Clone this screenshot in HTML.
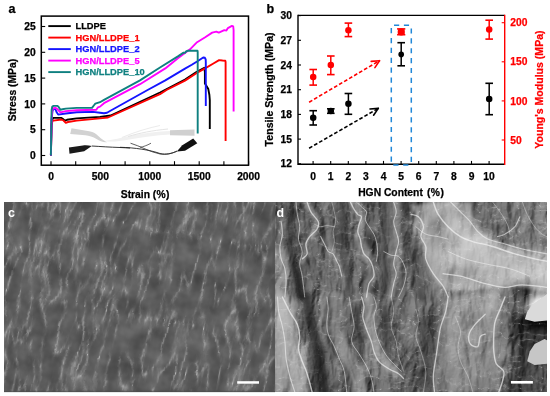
<!DOCTYPE html>
<html><head><meta charset="utf-8"><style>
html,body{margin:0;padding:0;background:#fff;}
svg{display:block;}
text{font-family:"Liberation Sans",Arial,sans-serif;font-weight:bold;stroke-width:0.25px;}
.r{stroke:#f00;} .w{stroke:none;}
.tk{font-size:10.3px;}
.al{font-size:10.3px;}
.lg{font-size:9.3px;}
.pl{font-size:12.5px;}
</style></head><body>
<svg width="550" height="396" viewBox="0 0 550 396">
<defs>
<filter id="tc" x="0" y="0" width="100%" height="100%" color-interpolation-filters="sRGB">
 <feTurbulence type="fractalNoise" baseFrequency="0.03 0.03" numOctaves="2" seed="11" result="w"/>
 <feTurbulence type="turbulence" baseFrequency="0.09 0.022" numOctaves="4" seed="7" result="t"/>
 <feDisplacementMap in="t" in2="w" scale="10" xChannelSelector="R" yChannelSelector="G" result="td"/>
 <feColorMatrix in="td" type="matrix" values="-1.6 0 0 0 1.0  -1.6 0 0 0 1.0  -1.6 0 0 0 1.0  0 0 0 0 1"/>
 <feComponentTransfer><feFuncR type="gamma" amplitude="1" exponent="5" offset="0"/><feFuncG type="gamma" amplitude="1" exponent="5" offset="0"/><feFuncB type="gamma" amplitude="1" exponent="5" offset="0"/></feComponentTransfer>
 <feComponentTransfer result="s"><feFuncR type="linear" slope="0.36" intercept="0.355"/><feFuncG type="linear" slope="0.36" intercept="0.355"/><feFuncB type="linear" slope="0.36" intercept="0.355"/></feComponentTransfer>
 <feTurbulence type="fractalNoise" baseFrequency="0.05 0.05" numOctaves="3" seed="3" result="m"/>
 <feColorMatrix in="m" type="matrix" values="0.5 0 0 0 0.25  0.5 0 0 0 0.25  0.5 0 0 0 0.25  0 0 0 0 1" result="mm"/>
 <feBlend in="mm" in2="s" mode="soft-light"/>
 <feGaussianBlur stdDeviation="0.45"/>
</filter>
<filter id="semd" x="250" y="180" width="320" height="235" filterUnits="userSpaceOnUse" color-interpolation-filters="sRGB">
 <feGaussianBlur in="SourceGraphic" stdDeviation="3.5" result="base"/>
 <feTurbulence type="fractalNoise" baseFrequency="0.03 0.02" numOctaves="2" seed="5" result="w"/>
 <feTurbulence type="fractalNoise" baseFrequency="0.06 0.02" numOctaves="4" seed="21" result="t"/>
 <feDisplacementMap in="t" in2="w" scale="14" xChannelSelector="R" yChannelSelector="G" result="td"/>
 <feColorMatrix in="td" type="matrix" values="0 0 0 0 0  0 0 0 0 0  0 0 0 0 0  1 0 0 0 0" result="h"/>
 <feDiffuseLighting in="h" surfaceScale="5" diffuseConstant="1.1" lighting-color="#fff" result="lit"><feDistantLight azimuth="225" elevation="50"/></feDiffuseLighting>
 <feColorMatrix in="lit" type="matrix" values="0.9 0 0 0 -0.12  0.9 0 0 0 -0.12  0.9 0 0 0 -0.12  0 0 0 0 1" result="tg"/>
 <feBlend in="tg" in2="base" mode="soft-light" result="b1"/>
 <feTurbulence type="turbulence" baseFrequency="0.05 0.09" numOctaves="3" seed="33" result="t2"/>
 <feDisplacementMap in="t2" in2="w" scale="10" xChannelSelector="G" yChannelSelector="R" result="t2d"/>
 <feColorMatrix in="t2d" type="matrix" values="0 0 0 0 1  0 0 0 0 1  0 0 0 0 1  -2.2 0 0 0 1.0" result="r2"/>
 <feComponentTransfer in="r2" result="r3"><feFuncA type="gamma" amplitude="0.32" exponent="4" offset="0"/></feComponentTransfer>
 <feComposite in="r3" in2="b1" operator="over"/>
</filter>
<filter id="db" x="-10%" y="-10%" width="120%" height="120%"><feGaussianBlur stdDeviation="2.2"/></filter>
<filter id="shb" x="-10%" y="-10%" width="120%" height="120%"><feGaussianBlur stdDeviation="1.5"/></filter>
<filter id="sb" x="-10%" y="-10%" width="120%" height="120%"><feGaussianBlur stdDeviation="0.5"/></filter>
<clipPath id="cc"><rect x="4" y="202" width="271" height="190"/></clipPath>
<clipPath id="cd"><rect x="275" y="202" width="272" height="190"/></clipPath>
</defs>
<rect width="550" height="396" fill="#fff"/>
<g id="pa">
<path d="M71.5,128.3 L89.3,131.2 C92,131.6 94,132.5 96,134 C99,136.5 102,139.8 107,142.3 C103,142.6 99.5,141 96.5,139 C93,136.8 89,135.6 85.5,135.3 L70.2,134 Z" fill="#d2d2d2"/>
<path d="M104,141 C112,140 122,137.5 132,135.5 C145,133 158,131.5 170,131 L170,134.6 C156,135.3 142,137.2 128,139.8 C119,141.3 111,142.3 104,141 Z" fill="#f0f0f0"/>
<path d="M122,137.5 C135,132 148,128 160,125.5" fill="none" stroke="#ececec" stroke-width="1.2"/>
<path d="M128,136.5 C140,133 152,130.5 168,129" fill="none" stroke="#e4e4e4" stroke-width="1"/>
<path d="M170,130.3 L194.5,129.6 L194.5,135.7 L170,135.2 Z" fill="#d0d0d0"/>
<path d="M68.9,147.4 L82.9,145.5 C86,145 89,145.5 91.8,146 L84.2,151.2 L69.5,153.7 Z" fill="#1a1a1a"/>
<path d="M91.8,146 C100,146.5 110,147.2 120,147.5 L130,148" fill="none" stroke="#222" stroke-width="0.9"/>
<path d="M120,147.3 C135,147.6 150,150 160,153.5 C166,155 172,153.5 177,151 " fill="none" stroke="#222" stroke-width="0.9"/>
<path d="M130.5,143.2 C140,146 150,152 160,154 C166,155 171,153.8 176.8,151.4" fill="none" stroke="#333" stroke-width="0.8"/>
<path d="M151,143.2 C147,145.5 143,146.8 140,147.3" fill="none" stroke="#444" stroke-width="0.8"/>
<path d="M176.8,151.4 L182.3,145.3 L193.2,138.5 L197.3,143.2 L185,150.7 Z" fill="#111"/>
<polyline points="50.9,155.5 51.5,125.0 52.5,119.0 53.3,117.9 61.5,117.9 63.0,119.0 64.7,120.6 67.0,119.8 76.7,118.4 100.0,116.9 110.6,115.5 160.0,92.5 185.0,79.5 196.4,72.0 204.3,67.8 204.9,72.0 204.9,83.4 206.5,86.0 208.3,89.1 209.4,95.0 209.8,100.0 209.8,128.9" fill="none" stroke="#000" stroke-width="1.9" stroke-linejoin="round"/>
<polyline points="50.9,155.5 51.5,125.0 52.5,121.0 53.3,120.6 61.5,119.5 63.5,120.5 65.8,122.8 68.0,122.0 76.7,120.6 100.0,118.4 108.0,117.5 160.0,94.2 166.5,90.0 185.0,80.6 196.4,73.2 205.5,68.1 213.4,63.5 219.1,60.1 222.5,60.5 225.3,60.7 225.6,62.0 225.6,140.9" fill="none" stroke="#ff0000" stroke-width="1.9" stroke-linejoin="round"/>
<polyline points="50.9,155.5 51.5,120.0 52.5,111.0 53.3,109.2 54.5,108.6 55.5,109.5 56.5,112.0 58.2,114.6 65.8,113.5 76.7,112.2 93.0,111.9 100.0,112.8 104.0,113.3 107.0,112.8 110.0,111.0 147.6,90.0 165.3,80.4 185.0,68.6 191.8,64.7 197.5,61.2 203.2,57.5 204.9,57.8 205.7,59.5 205.8,62.0 205.8,106.1" fill="none" stroke="#1414ff" stroke-width="1.9" stroke-linejoin="round"/>
<polyline points="50.9,155.5 51.5,120.0 52.3,110.0 53.3,108.1 55.5,107.9 57.2,109.0 60.4,112.4 65.8,111.1 76.7,110.3 96.3,109.7 98.0,107.3 100.0,106.6 104.0,103.2 140.0,84.2 165.3,68.4 177.9,58.3 190.0,49.3 197.1,42.2 205.2,37.2 212.2,32.6 216.3,31.6 218.8,32.6 224.3,30.1 226.4,30.6 227.9,28.1 231.9,25.9 233.2,26.3 233.6,30.0 233.6,111.4" fill="none" stroke="#ff00ff" stroke-width="1.9" stroke-linejoin="round"/>
<polyline points="50.9,155.5 51.2,130.0 51.6,110.0 52.3,106.5 53.5,105.9 57.5,105.9 58.8,107.2 60.4,109.7 62.5,109.3 65.8,108.6 76.7,107.9 92.0,107.9 93.8,105.5 95.3,103.7 100.0,102.2 104.0,99.9 140.0,80.4 160.0,67.5 177.9,56.4 183.6,52.6 185.0,52.8 186.0,51.5 188.0,50.7 197.5,50.7 197.7,52.0 197.7,133.4" fill="none" stroke="#0f8080" stroke-width="1.9" stroke-linejoin="round"/>
<rect x="41.3" y="16.1" width="207.2" height="149.1" fill="none" stroke="#000" stroke-width="1.5"/>
<line x1="41.3" y1="26.5" x2="45.2" y2="26.5" stroke="#000" stroke-width="1.1"/>
<text stroke="#000" x="35.8" y="30.1" class="tk" text-anchor="end">25</text>
<line x1="41.3" y1="52.3" x2="45.2" y2="52.3" stroke="#000" stroke-width="1.1"/>
<text stroke="#000" x="35.8" y="55.9" class="tk" text-anchor="end">20</text>
<line x1="41.3" y1="78.1" x2="45.2" y2="78.1" stroke="#000" stroke-width="1.1"/>
<text stroke="#000" x="35.8" y="81.7" class="tk" text-anchor="end">15</text>
<line x1="41.3" y1="103.9" x2="45.2" y2="103.9" stroke="#000" stroke-width="1.1"/>
<text stroke="#000" x="35.8" y="107.5" class="tk" text-anchor="end">10</text>
<line x1="41.3" y1="129.7" x2="45.2" y2="129.7" stroke="#000" stroke-width="1.1"/>
<text stroke="#000" x="35.8" y="133.3" class="tk" text-anchor="end">5</text>
<line x1="41.3" y1="155.5" x2="45.2" y2="155.5" stroke="#000" stroke-width="1.1"/>
<text stroke="#000" x="35.8" y="159.1" class="tk" text-anchor="end">0</text>
<line x1="51.0" y1="165.2" x2="51.0" y2="161.2" stroke="#000" stroke-width="1.1"/>
<text stroke="#000" x="51.0" y="179.8" class="tk" text-anchor="middle">0</text>
<line x1="75.7" y1="165.2" x2="75.7" y2="161.2" stroke="#000" stroke-width="1.1"/>
<line x1="100.4" y1="165.2" x2="100.4" y2="161.2" stroke="#000" stroke-width="1.1"/>
<text stroke="#000" x="100.4" y="179.8" class="tk" text-anchor="middle">500</text>
<line x1="125.1" y1="165.2" x2="125.1" y2="161.2" stroke="#000" stroke-width="1.1"/>
<line x1="149.8" y1="165.2" x2="149.8" y2="161.2" stroke="#000" stroke-width="1.1"/>
<text stroke="#000" x="149.8" y="179.8" class="tk" text-anchor="middle">1000</text>
<line x1="174.5" y1="165.2" x2="174.5" y2="161.2" stroke="#000" stroke-width="1.1"/>
<line x1="199.2" y1="165.2" x2="199.2" y2="161.2" stroke="#000" stroke-width="1.1"/>
<text stroke="#000" x="199.2" y="179.8" class="tk" text-anchor="middle">1500</text>
<line x1="223.9" y1="165.2" x2="223.9" y2="161.2" stroke="#000" stroke-width="1.1"/>
<line x1="248.6" y1="165.2" x2="248.6" y2="161.2" stroke="#000" stroke-width="1.1"/>
<text stroke="#000" x="248.6" y="179.8" class="tk" text-anchor="middle">2000</text>
<text stroke="#000" x="120.8" y="197.5" class="al">Strain (<tspan dx="0.3">%</tspan><tspan dx="0.2">)</tspan></text>
<text stroke="#000" transform="translate(16.4,90.1) rotate(-90)" class="al" text-anchor="middle">Stress (MPa)</text>
<line x1="48.3" y1="26.1" x2="70.8" y2="26.1" stroke="#000" stroke-width="1.9"/>
<text x="75.5" y="29.3" class="lg" fill="#000" stroke="#000">LLDPE</text>
<line x1="48.3" y1="37.6" x2="70.8" y2="37.6" stroke="#ff0000" stroke-width="1.9"/>
<text x="75.5" y="40.8" class="lg" fill="#ff0000" stroke="#ff0000">HGN/LLDPE_1</text>
<line x1="48.3" y1="49.1" x2="70.8" y2="49.1" stroke="#1414ff" stroke-width="1.9"/>
<text x="75.5" y="52.3" class="lg" fill="#1414ff" stroke="#1414ff">HGN/LLDPE_2</text>
<line x1="48.3" y1="60.6" x2="70.8" y2="60.6" stroke="#ff00ff" stroke-width="1.9"/>
<text x="75.5" y="63.8" class="lg" fill="#ff00ff" stroke="#ff00ff">HGN/LLDPE_5</text>
<line x1="48.3" y1="72.1" x2="70.8" y2="72.1" stroke="#0f8080" stroke-width="1.9"/>
<text x="75.5" y="75.3" class="lg" fill="#0f8080" stroke="#0f8080">HGN/LLDPE_10</text>
<text stroke="#000" x="8.5" y="12.7" class="pl">a</text>
</g>
<g id="pb">
<line x1="298" y1="15.4" x2="504.7" y2="15.4" stroke="#000" stroke-width="1.4"/>
<line x1="298" y1="164.2" x2="504.7" y2="164.2" stroke="#000" stroke-width="1.4"/>
<line x1="298" y1="14.7" x2="298" y2="164.9" stroke="#000" stroke-width="1.4"/>
<line x1="298" y1="15.6" x2="301" y2="15.6" stroke="#000" stroke-width="1.1"/>
<text stroke="#000" x="292" y="19.2" class="tk" text-anchor="end">30</text>
<line x1="298" y1="40.3" x2="301" y2="40.3" stroke="#000" stroke-width="1.1"/>
<text stroke="#000" x="292" y="43.9" class="tk" text-anchor="end">27</text>
<line x1="298" y1="65.0" x2="301" y2="65.0" stroke="#000" stroke-width="1.1"/>
<text stroke="#000" x="292" y="68.6" class="tk" text-anchor="end">24</text>
<line x1="298" y1="89.7" x2="301" y2="89.7" stroke="#000" stroke-width="1.1"/>
<text stroke="#000" x="292" y="93.3" class="tk" text-anchor="end">21</text>
<line x1="298" y1="114.4" x2="301" y2="114.4" stroke="#000" stroke-width="1.1"/>
<text stroke="#000" x="292" y="118.0" class="tk" text-anchor="end">18</text>
<line x1="298" y1="139.1" x2="301" y2="139.1" stroke="#000" stroke-width="1.1"/>
<text stroke="#000" x="292" y="142.7" class="tk" text-anchor="end">15</text>
<line x1="298" y1="163.8" x2="301" y2="163.8" stroke="#000" stroke-width="1.1"/>
<text stroke="#000" x="292" y="167.4" class="tk" text-anchor="end">12</text>
<line x1="313.1" y1="164.2" x2="313.1" y2="160.9" stroke="#000" stroke-width="1.1"/>
<text stroke="#000" x="313.1" y="179.6" class="tk" text-anchor="middle">0</text>
<line x1="330.7" y1="164.2" x2="330.7" y2="160.9" stroke="#000" stroke-width="1.1"/>
<text stroke="#000" x="330.7" y="179.6" class="tk" text-anchor="middle">1</text>
<line x1="348.3" y1="164.2" x2="348.3" y2="160.9" stroke="#000" stroke-width="1.1"/>
<text stroke="#000" x="348.3" y="179.6" class="tk" text-anchor="middle">2</text>
<line x1="365.9" y1="164.2" x2="365.9" y2="160.9" stroke="#000" stroke-width="1.1"/>
<text stroke="#000" x="365.9" y="179.6" class="tk" text-anchor="middle">3</text>
<line x1="383.5" y1="164.2" x2="383.5" y2="160.9" stroke="#000" stroke-width="1.1"/>
<text stroke="#000" x="383.5" y="179.6" class="tk" text-anchor="middle">4</text>
<line x1="401.1" y1="164.2" x2="401.1" y2="160.9" stroke="#000" stroke-width="1.1"/>
<text stroke="#000" x="401.1" y="179.6" class="tk" text-anchor="middle">5</text>
<line x1="418.7" y1="164.2" x2="418.7" y2="160.9" stroke="#000" stroke-width="1.1"/>
<text stroke="#000" x="418.7" y="179.6" class="tk" text-anchor="middle">6</text>
<line x1="436.3" y1="164.2" x2="436.3" y2="160.9" stroke="#000" stroke-width="1.1"/>
<text stroke="#000" x="436.3" y="179.6" class="tk" text-anchor="middle">7</text>
<line x1="453.9" y1="164.2" x2="453.9" y2="160.9" stroke="#000" stroke-width="1.1"/>
<text stroke="#000" x="453.9" y="179.6" class="tk" text-anchor="middle">8</text>
<line x1="471.5" y1="164.2" x2="471.5" y2="160.9" stroke="#000" stroke-width="1.1"/>
<text stroke="#000" x="471.5" y="179.6" class="tk" text-anchor="middle">9</text>
<line x1="489.1" y1="164.2" x2="489.1" y2="160.9" stroke="#000" stroke-width="1.1"/>
<text stroke="#000" x="489.1" y="179.6" class="tk" text-anchor="middle">10</text>
<line x1="504.7" y1="14.7" x2="504.7" y2="164.9" stroke="#f00" stroke-width="1.4"/>
<line x1="501.7" y1="22.7" x2="504.7" y2="22.7" stroke="#f00" stroke-width="1.1"/>
<text x="510.2" y="26.3" class="tk" fill="#f00" stroke="#f00">200</text>
<line x1="501.7" y1="61.8" x2="504.7" y2="61.8" stroke="#f00" stroke-width="1.1"/>
<text x="510.2" y="65.4" class="tk" fill="#f00" stroke="#f00">150</text>
<line x1="501.7" y1="100.9" x2="504.7" y2="100.9" stroke="#f00" stroke-width="1.1"/>
<text x="510.2" y="104.5" class="tk" fill="#f00" stroke="#f00">100</text>
<line x1="501.7" y1="140.0" x2="504.7" y2="140.0" stroke="#f00" stroke-width="1.1"/>
<text x="510.2" y="143.6" class="tk" fill="#f00" stroke="#f00">50</text>
<text stroke="#000" x="358.2" y="196.4" class="al">HGN Content<tspan dx="1.2"> (</tspan><tspan dx="0.5">%</tspan><tspan dx="0.4">)</tspan></text>
<text stroke="#000" transform="translate(272.8,89.4) rotate(-90)" class="al" text-anchor="middle" style="font-size:10.6px">Tensile Strength (MPa)</text>
<text transform="translate(542.8,89.6) rotate(-90)" class="al" text-anchor="middle" fill="#f00" stroke="#f00" style="font-size:10.55px">Young's Modulus (MPa)</text>
<line x1="394" y1="25.2" x2="412" y2="25.2" stroke="#2188d8" stroke-width="1.5" stroke-dasharray="5.2,4.68"/>
<line x1="393.3" y1="165.1" x2="412" y2="165.1" stroke="#2188d8" stroke-width="1.5" stroke-dasharray="5.2,4.68"/>
<line x1="391.3" y1="28.1" x2="391.3" y2="164" stroke="#2188d8" stroke-width="1.5" stroke-dasharray="5.2,4.68"/>
<line x1="411.3" y1="28.4" x2="411.3" y2="164" stroke="#2188d8" stroke-width="1.5" stroke-dasharray="5.2,4.68"/>
<line x1="309.1" y1="148.2" x2="378.3" y2="108.4" stroke="#000" stroke-width="1.6" stroke-dasharray="3.7,2.1"/>
<line x1="378.3" y1="108.4" x2="373.6" y2="115.2" stroke="#000" stroke-width="1.6" stroke-linecap="round"/>
<line x1="378.3" y1="108.4" x2="370.0" y2="109.0" stroke="#000" stroke-width="1.6" stroke-linecap="round"/>
<line x1="309.1" y1="102.2" x2="379.5" y2="60.7" stroke="#f00" stroke-width="1.6" stroke-dasharray="3.7,2.1"/>
<line x1="379.5" y1="60.7" x2="374.9" y2="67.6" stroke="#f00" stroke-width="1.6" stroke-linecap="round"/>
<line x1="379.5" y1="60.7" x2="371.2" y2="61.4" stroke="#f00" stroke-width="1.6" stroke-linecap="round"/>
<line x1="313.2" y1="110.7" x2="313.2" y2="125" stroke="#000" stroke-width="1.5"/>
<line x1="309.4" y1="110.7" x2="317.0" y2="110.7" stroke="#000" stroke-width="1.6"/>
<line x1="309.4" y1="125" x2="317.0" y2="125" stroke="#000" stroke-width="1.6"/>
<circle cx="313.2" cy="117.7" r="3.25" fill="#000"/>
<line x1="330.8" y1="108.8" x2="330.8" y2="113.3" stroke="#000" stroke-width="1.5"/>
<line x1="327.0" y1="108.8" x2="334.6" y2="108.8" stroke="#000" stroke-width="1.6"/>
<line x1="327.0" y1="113.3" x2="334.6" y2="113.3" stroke="#000" stroke-width="1.6"/>
<circle cx="330.8" cy="110.9" r="3.25" fill="#000"/>
<line x1="348.4" y1="93.5" x2="348.4" y2="114.3" stroke="#000" stroke-width="1.5"/>
<line x1="344.6" y1="93.5" x2="352.2" y2="93.5" stroke="#000" stroke-width="1.6"/>
<line x1="344.6" y1="114.3" x2="352.2" y2="114.3" stroke="#000" stroke-width="1.6"/>
<circle cx="348.4" cy="103.8" r="3.25" fill="#000"/>
<line x1="401.2" y1="42.7" x2="401.2" y2="65.8" stroke="#000" stroke-width="1.5"/>
<line x1="397.4" y1="42.7" x2="405.0" y2="42.7" stroke="#000" stroke-width="1.6"/>
<line x1="397.4" y1="65.8" x2="405.0" y2="65.8" stroke="#000" stroke-width="1.6"/>
<circle cx="401.2" cy="54.4" r="2.8" fill="#000"/>
<line x1="489.2" y1="83.3" x2="489.2" y2="114.7" stroke="#000" stroke-width="1.5"/>
<line x1="485.4" y1="83.3" x2="493.0" y2="83.3" stroke="#000" stroke-width="1.6"/>
<line x1="485.4" y1="114.7" x2="493.0" y2="114.7" stroke="#000" stroke-width="1.6"/>
<circle cx="489.2" cy="99.1" r="3.25" fill="#000"/>
<line x1="313.2" y1="69.5" x2="313.2" y2="85.1" stroke="#f00" stroke-width="1.5"/>
<line x1="309.4" y1="69.5" x2="317.0" y2="69.5" stroke="#f00" stroke-width="1.6"/>
<line x1="309.4" y1="85.1" x2="317.0" y2="85.1" stroke="#f00" stroke-width="1.6"/>
<circle cx="313.2" cy="77" r="3.25" fill="#f00"/>
<line x1="330.8" y1="56" x2="330.8" y2="74.6" stroke="#f00" stroke-width="1.5"/>
<line x1="327.0" y1="56" x2="334.6" y2="56" stroke="#f00" stroke-width="1.6"/>
<line x1="327.0" y1="74.6" x2="334.6" y2="74.6" stroke="#f00" stroke-width="1.6"/>
<circle cx="330.8" cy="65.1" r="3.25" fill="#f00"/>
<line x1="348.4" y1="23.1" x2="348.4" y2="36.6" stroke="#f00" stroke-width="1.5"/>
<line x1="344.6" y1="23.1" x2="352.2" y2="23.1" stroke="#f00" stroke-width="1.6"/>
<line x1="344.6" y1="36.6" x2="352.2" y2="36.6" stroke="#f00" stroke-width="1.6"/>
<circle cx="348.4" cy="30.2" r="3.25" fill="#f00"/>
<line x1="401.2" y1="28.9" x2="401.2" y2="34.7" stroke="#f00" stroke-width="1.5"/>
<line x1="397.1" y1="28.9" x2="405.3" y2="28.9" stroke="#f00" stroke-width="1.6"/>
<line x1="397.1" y1="34.7" x2="405.3" y2="34.7" stroke="#f00" stroke-width="1.6"/>
<circle cx="401.2" cy="32" r="3.5" fill="#f00"/>
<rect x="397.9" y="29.4" width="6.6" height="4.8" fill="#f00"/>
<line x1="489.2" y1="20.2" x2="489.2" y2="39.1" stroke="#f00" stroke-width="1.5"/>
<line x1="485.4" y1="20.2" x2="493.0" y2="20.2" stroke="#f00" stroke-width="1.6"/>
<line x1="485.4" y1="39.1" x2="493.0" y2="39.1" stroke="#f00" stroke-width="1.6"/>
<circle cx="489.2" cy="29.5" r="3.25" fill="#f00"/>
<text stroke="#000" x="266.5" y="12.8" class="pl">b</text>
</g>
<g clip-path="url(#cc)"><rect x="4" y="202" width="271" height="190" fill="#5c5c5c"/>
<g transform="rotate(11 140 297)"><rect x="-100" y="100" width="500" height="400" filter="url(#tc)"/></g></g>
<g clip-path="url(#cd)"><g filter="url(#semd)"><rect x="255.0" y="182.0" width="37.6" height="36.4" fill="rgb(65,65,65)"/>
<rect x="292.0" y="182.0" width="17.6" height="36.4" fill="rgb(71,71,71)"/>
<rect x="309.0" y="182.0" width="17.6" height="36.4" fill="rgb(45,45,45)"/>
<rect x="326.0" y="182.0" width="17.6" height="36.4" fill="rgb(80,80,80)"/>
<rect x="343.0" y="182.0" width="17.6" height="36.4" fill="rgb(82,82,82)"/>
<rect x="360.0" y="182.0" width="17.6" height="36.4" fill="rgb(59,59,59)"/>
<rect x="377.0" y="182.0" width="17.6" height="36.4" fill="rgb(99,99,99)"/>
<rect x="394.0" y="182.0" width="17.6" height="36.4" fill="rgb(40,40,40)"/>
<rect x="411.0" y="182.0" width="17.6" height="36.4" fill="rgb(73,73,73)"/>
<rect x="428.0" y="182.0" width="17.6" height="36.4" fill="rgb(108,108,108)"/>
<rect x="445.0" y="182.0" width="17.6" height="36.4" fill="rgb(129,129,129)"/>
<rect x="462.0" y="182.0" width="17.6" height="36.4" fill="rgb(81,81,81)"/>
<rect x="479.0" y="182.0" width="17.6" height="36.4" fill="rgb(90,90,90)"/>
<rect x="496.0" y="182.0" width="17.6" height="36.4" fill="rgb(93,93,93)"/>
<rect x="513.0" y="182.0" width="17.6" height="36.4" fill="rgb(105,105,105)"/>
<rect x="530.0" y="182.0" width="37.6" height="36.4" fill="rgb(103,103,103)"/>
<rect x="255.0" y="217.8" width="37.6" height="16.4" fill="rgb(100,100,100)"/>
<rect x="292.0" y="217.8" width="17.6" height="16.4" fill="rgb(91,91,91)"/>
<rect x="309.0" y="217.8" width="17.6" height="16.4" fill="rgb(52,52,52)"/>
<rect x="326.0" y="217.8" width="17.6" height="16.4" fill="rgb(58,58,58)"/>
<rect x="343.0" y="217.8" width="17.6" height="16.4" fill="rgb(89,89,89)"/>
<rect x="360.0" y="217.8" width="17.6" height="16.4" fill="rgb(66,66,66)"/>
<rect x="377.0" y="217.8" width="17.6" height="16.4" fill="rgb(92,92,92)"/>
<rect x="394.0" y="217.8" width="17.6" height="16.4" fill="rgb(55,55,55)"/>
<rect x="411.0" y="217.8" width="17.6" height="16.4" fill="rgb(148,148,148)"/>
<rect x="428.0" y="217.8" width="17.6" height="16.4" fill="rgb(35,35,35)"/>
<rect x="445.0" y="217.8" width="17.6" height="16.4" fill="rgb(166,166,166)"/>
<rect x="462.0" y="217.8" width="17.6" height="16.4" fill="rgb(112,112,112)"/>
<rect x="479.0" y="217.8" width="17.6" height="16.4" fill="rgb(74,74,74)"/>
<rect x="496.0" y="217.8" width="17.6" height="16.4" fill="rgb(99,99,99)"/>
<rect x="513.0" y="217.8" width="17.6" height="16.4" fill="rgb(114,114,114)"/>
<rect x="530.0" y="217.8" width="37.6" height="16.4" fill="rgb(114,114,114)"/>
<rect x="255.0" y="233.7" width="37.6" height="16.4" fill="rgb(85,85,85)"/>
<rect x="292.0" y="233.7" width="17.6" height="16.4" fill="rgb(55,55,55)"/>
<rect x="309.0" y="233.7" width="17.6" height="16.4" fill="rgb(76,76,76)"/>
<rect x="326.0" y="233.7" width="17.6" height="16.4" fill="rgb(53,53,53)"/>
<rect x="343.0" y="233.7" width="17.6" height="16.4" fill="rgb(85,85,85)"/>
<rect x="360.0" y="233.7" width="17.6" height="16.4" fill="rgb(29,29,29)"/>
<rect x="377.0" y="233.7" width="17.6" height="16.4" fill="rgb(110,110,110)"/>
<rect x="394.0" y="233.7" width="17.6" height="16.4" fill="rgb(52,52,52)"/>
<rect x="411.0" y="233.7" width="17.6" height="16.4" fill="rgb(134,134,134)"/>
<rect x="428.0" y="233.7" width="17.6" height="16.4" fill="rgb(81,81,81)"/>
<rect x="445.0" y="233.7" width="17.6" height="16.4" fill="rgb(125,125,125)"/>
<rect x="462.0" y="233.7" width="17.6" height="16.4" fill="rgb(184,184,184)"/>
<rect x="479.0" y="233.7" width="17.6" height="16.4" fill="rgb(163,163,163)"/>
<rect x="496.0" y="233.7" width="17.6" height="16.4" fill="rgb(80,80,80)"/>
<rect x="513.0" y="233.7" width="17.6" height="16.4" fill="rgb(106,106,106)"/>
<rect x="530.0" y="233.7" width="37.6" height="16.4" fill="rgb(95,95,95)"/>
<rect x="255.0" y="249.5" width="37.6" height="16.4" fill="rgb(137,137,137)"/>
<rect x="292.0" y="249.5" width="17.6" height="16.4" fill="rgb(35,35,35)"/>
<rect x="309.0" y="249.5" width="17.6" height="16.4" fill="rgb(80,80,80)"/>
<rect x="326.0" y="249.5" width="17.6" height="16.4" fill="rgb(72,72,72)"/>
<rect x="343.0" y="249.5" width="17.6" height="16.4" fill="rgb(123,123,123)"/>
<rect x="360.0" y="249.5" width="17.6" height="16.4" fill="rgb(61,61,61)"/>
<rect x="377.0" y="249.5" width="17.6" height="16.4" fill="rgb(102,102,102)"/>
<rect x="394.0" y="249.5" width="17.6" height="16.4" fill="rgb(75,75,75)"/>
<rect x="411.0" y="249.5" width="17.6" height="16.4" fill="rgb(90,90,90)"/>
<rect x="428.0" y="249.5" width="17.6" height="16.4" fill="rgb(122,122,122)"/>
<rect x="445.0" y="249.5" width="17.6" height="16.4" fill="rgb(170,170,170)"/>
<rect x="462.0" y="249.5" width="17.6" height="16.4" fill="rgb(150,150,150)"/>
<rect x="479.0" y="249.5" width="17.6" height="16.4" fill="rgb(157,157,157)"/>
<rect x="496.0" y="249.5" width="17.6" height="16.4" fill="rgb(150,150,150)"/>
<rect x="513.0" y="249.5" width="17.6" height="16.4" fill="rgb(114,114,114)"/>
<rect x="530.0" y="249.5" width="37.6" height="16.4" fill="rgb(165,165,165)"/>
<rect x="255.0" y="265.3" width="37.6" height="16.4" fill="rgb(127,127,127)"/>
<rect x="292.0" y="265.3" width="17.6" height="16.4" fill="rgb(71,71,71)"/>
<rect x="309.0" y="265.3" width="17.6" height="16.4" fill="rgb(88,88,88)"/>
<rect x="326.0" y="265.3" width="17.6" height="16.4" fill="rgb(84,84,84)"/>
<rect x="343.0" y="265.3" width="17.6" height="16.4" fill="rgb(90,90,90)"/>
<rect x="360.0" y="265.3" width="17.6" height="16.4" fill="rgb(55,55,55)"/>
<rect x="377.0" y="265.3" width="17.6" height="16.4" fill="rgb(87,87,87)"/>
<rect x="394.0" y="265.3" width="17.6" height="16.4" fill="rgb(69,69,69)"/>
<rect x="411.0" y="265.3" width="17.6" height="16.4" fill="rgb(91,91,91)"/>
<rect x="428.0" y="265.3" width="17.6" height="16.4" fill="rgb(106,106,106)"/>
<rect x="445.0" y="265.3" width="17.6" height="16.4" fill="rgb(84,84,84)"/>
<rect x="462.0" y="265.3" width="17.6" height="16.4" fill="rgb(82,82,82)"/>
<rect x="479.0" y="265.3" width="17.6" height="16.4" fill="rgb(144,144,144)"/>
<rect x="496.0" y="265.3" width="17.6" height="16.4" fill="rgb(149,149,149)"/>
<rect x="513.0" y="265.3" width="17.6" height="16.4" fill="rgb(162,162,162)"/>
<rect x="530.0" y="265.3" width="37.6" height="16.4" fill="rgb(181,181,181)"/>
<rect x="255.0" y="281.2" width="37.6" height="16.4" fill="rgb(116,116,116)"/>
<rect x="292.0" y="281.2" width="17.6" height="16.4" fill="rgb(75,75,75)"/>
<rect x="309.0" y="281.2" width="17.6" height="16.4" fill="rgb(105,105,105)"/>
<rect x="326.0" y="281.2" width="17.6" height="16.4" fill="rgb(85,85,85)"/>
<rect x="343.0" y="281.2" width="17.6" height="16.4" fill="rgb(98,98,98)"/>
<rect x="360.0" y="281.2" width="17.6" height="16.4" fill="rgb(29,29,29)"/>
<rect x="377.0" y="281.2" width="17.6" height="16.4" fill="rgb(77,77,77)"/>
<rect x="394.0" y="281.2" width="17.6" height="16.4" fill="rgb(76,76,76)"/>
<rect x="411.0" y="281.2" width="17.6" height="16.4" fill="rgb(73,73,73)"/>
<rect x="428.0" y="281.2" width="17.6" height="16.4" fill="rgb(111,111,111)"/>
<rect x="445.0" y="281.2" width="17.6" height="16.4" fill="rgb(116,116,116)"/>
<rect x="462.0" y="281.2" width="17.6" height="16.4" fill="rgb(129,129,129)"/>
<rect x="479.0" y="281.2" width="17.6" height="16.4" fill="rgb(136,136,136)"/>
<rect x="496.0" y="281.2" width="17.6" height="16.4" fill="rgb(117,117,117)"/>
<rect x="513.0" y="281.2" width="17.6" height="16.4" fill="rgb(31,31,31)"/>
<rect x="530.0" y="281.2" width="37.6" height="16.4" fill="rgb(123,123,123)"/>
<rect x="255.0" y="297.0" width="37.6" height="16.4" fill="rgb(160,160,160)"/>
<rect x="292.0" y="297.0" width="17.6" height="16.4" fill="rgb(98,98,98)"/>
<rect x="309.0" y="297.0" width="17.6" height="16.4" fill="rgb(122,122,122)"/>
<rect x="326.0" y="297.0" width="17.6" height="16.4" fill="rgb(62,62,62)"/>
<rect x="343.0" y="297.0" width="17.6" height="16.4" fill="rgb(86,86,86)"/>
<rect x="360.0" y="297.0" width="17.6" height="16.4" fill="rgb(69,69,69)"/>
<rect x="377.0" y="297.0" width="17.6" height="16.4" fill="rgb(95,95,95)"/>
<rect x="394.0" y="297.0" width="17.6" height="16.4" fill="rgb(85,85,85)"/>
<rect x="411.0" y="297.0" width="17.6" height="16.4" fill="rgb(112,112,112)"/>
<rect x="428.0" y="297.0" width="17.6" height="16.4" fill="rgb(84,84,84)"/>
<rect x="445.0" y="297.0" width="17.6" height="16.4" fill="rgb(107,107,107)"/>
<rect x="462.0" y="297.0" width="17.6" height="16.4" fill="rgb(112,112,112)"/>
<rect x="479.0" y="297.0" width="17.6" height="16.4" fill="rgb(135,135,135)"/>
<rect x="496.0" y="297.0" width="17.6" height="16.4" fill="rgb(93,93,93)"/>
<rect x="513.0" y="297.0" width="17.6" height="16.4" fill="rgb(85,85,85)"/>
<rect x="530.0" y="297.0" width="37.6" height="16.4" fill="rgb(255,255,255)"/>
<rect x="255.0" y="312.8" width="37.6" height="16.4" fill="rgb(158,158,158)"/>
<rect x="292.0" y="312.8" width="17.6" height="16.4" fill="rgb(72,72,72)"/>
<rect x="309.0" y="312.8" width="17.6" height="16.4" fill="rgb(117,117,117)"/>
<rect x="326.0" y="312.8" width="17.6" height="16.4" fill="rgb(60,60,60)"/>
<rect x="343.0" y="312.8" width="17.6" height="16.4" fill="rgb(69,69,69)"/>
<rect x="360.0" y="312.8" width="17.6" height="16.4" fill="rgb(97,97,97)"/>
<rect x="377.0" y="312.8" width="17.6" height="16.4" fill="rgb(67,67,67)"/>
<rect x="394.0" y="312.8" width="17.6" height="16.4" fill="rgb(87,87,87)"/>
<rect x="411.0" y="312.8" width="17.6" height="16.4" fill="rgb(90,90,90)"/>
<rect x="428.0" y="312.8" width="17.6" height="16.4" fill="rgb(61,61,61)"/>
<rect x="445.0" y="312.8" width="17.6" height="16.4" fill="rgb(120,120,120)"/>
<rect x="462.0" y="312.8" width="17.6" height="16.4" fill="rgb(60,60,60)"/>
<rect x="479.0" y="312.8" width="17.6" height="16.4" fill="rgb(114,114,114)"/>
<rect x="496.0" y="312.8" width="17.6" height="16.4" fill="rgb(90,90,90)"/>
<rect x="513.0" y="312.8" width="17.6" height="16.4" fill="rgb(17,17,17)"/>
<rect x="530.0" y="312.8" width="37.6" height="16.4" fill="rgb(0,0,0)"/>
<rect x="255.0" y="328.7" width="37.6" height="16.4" fill="rgb(128,128,128)"/>
<rect x="292.0" y="328.7" width="17.6" height="16.4" fill="rgb(71,71,71)"/>
<rect x="309.0" y="328.7" width="17.6" height="16.4" fill="rgb(109,109,109)"/>
<rect x="326.0" y="328.7" width="17.6" height="16.4" fill="rgb(58,58,58)"/>
<rect x="343.0" y="328.7" width="17.6" height="16.4" fill="rgb(70,70,70)"/>
<rect x="360.0" y="328.7" width="17.6" height="16.4" fill="rgb(99,99,99)"/>
<rect x="377.0" y="328.7" width="17.6" height="16.4" fill="rgb(89,89,89)"/>
<rect x="394.0" y="328.7" width="17.6" height="16.4" fill="rgb(97,97,97)"/>
<rect x="411.0" y="328.7" width="17.6" height="16.4" fill="rgb(107,107,107)"/>
<rect x="428.0" y="328.7" width="17.6" height="16.4" fill="rgb(46,46,46)"/>
<rect x="445.0" y="328.7" width="17.6" height="16.4" fill="rgb(97,97,97)"/>
<rect x="462.0" y="328.7" width="17.6" height="16.4" fill="rgb(129,129,129)"/>
<rect x="479.0" y="328.7" width="17.6" height="16.4" fill="rgb(96,96,96)"/>
<rect x="496.0" y="328.7" width="17.6" height="16.4" fill="rgb(90,90,90)"/>
<rect x="513.0" y="328.7" width="17.6" height="16.4" fill="rgb(36,36,36)"/>
<rect x="530.0" y="328.7" width="37.6" height="16.4" fill="rgb(31,31,31)"/>
<rect x="255.0" y="344.5" width="37.6" height="16.4" fill="rgb(127,127,127)"/>
<rect x="292.0" y="344.5" width="17.6" height="16.4" fill="rgb(148,148,148)"/>
<rect x="309.0" y="344.5" width="17.6" height="16.4" fill="rgb(62,62,62)"/>
<rect x="326.0" y="344.5" width="17.6" height="16.4" fill="rgb(78,78,78)"/>
<rect x="343.0" y="344.5" width="17.6" height="16.4" fill="rgb(78,78,78)"/>
<rect x="360.0" y="344.5" width="17.6" height="16.4" fill="rgb(117,117,117)"/>
<rect x="377.0" y="344.5" width="17.6" height="16.4" fill="rgb(93,93,93)"/>
<rect x="394.0" y="344.5" width="17.6" height="16.4" fill="rgb(76,76,76)"/>
<rect x="411.0" y="344.5" width="17.6" height="16.4" fill="rgb(87,87,87)"/>
<rect x="428.0" y="344.5" width="17.6" height="16.4" fill="rgb(50,50,50)"/>
<rect x="445.0" y="344.5" width="17.6" height="16.4" fill="rgb(128,128,128)"/>
<rect x="462.0" y="344.5" width="17.6" height="16.4" fill="rgb(85,85,85)"/>
<rect x="479.0" y="344.5" width="17.6" height="16.4" fill="rgb(88,88,88)"/>
<rect x="496.0" y="344.5" width="17.6" height="16.4" fill="rgb(113,113,113)"/>
<rect x="513.0" y="344.5" width="17.6" height="16.4" fill="rgb(53,53,53)"/>
<rect x="530.0" y="344.5" width="37.6" height="16.4" fill="rgb(0,0,0)"/>
<rect x="255.0" y="360.3" width="37.6" height="16.4" fill="rgb(119,119,119)"/>
<rect x="292.0" y="360.3" width="17.6" height="16.4" fill="rgb(145,145,145)"/>
<rect x="309.0" y="360.3" width="17.6" height="16.4" fill="rgb(40,40,40)"/>
<rect x="326.0" y="360.3" width="17.6" height="16.4" fill="rgb(109,109,109)"/>
<rect x="343.0" y="360.3" width="17.6" height="16.4" fill="rgb(63,63,63)"/>
<rect x="360.0" y="360.3" width="17.6" height="16.4" fill="rgb(125,125,125)"/>
<rect x="377.0" y="360.3" width="17.6" height="16.4" fill="rgb(99,99,99)"/>
<rect x="394.0" y="360.3" width="17.6" height="16.4" fill="rgb(77,77,77)"/>
<rect x="411.0" y="360.3" width="17.6" height="16.4" fill="rgb(62,62,62)"/>
<rect x="428.0" y="360.3" width="17.6" height="16.4" fill="rgb(75,75,75)"/>
<rect x="445.0" y="360.3" width="17.6" height="16.4" fill="rgb(88,88,88)"/>
<rect x="462.0" y="360.3" width="17.6" height="16.4" fill="rgb(94,94,94)"/>
<rect x="479.0" y="360.3" width="17.6" height="16.4" fill="rgb(79,79,79)"/>
<rect x="496.0" y="360.3" width="17.6" height="16.4" fill="rgb(90,90,90)"/>
<rect x="513.0" y="360.3" width="17.6" height="16.4" fill="rgb(37,37,37)"/>
<rect x="530.0" y="360.3" width="37.6" height="16.4" fill="rgb(64,64,64)"/>
<rect x="255.0" y="376.2" width="37.6" height="36.4" fill="rgb(103,103,103)"/>
<rect x="292.0" y="376.2" width="17.6" height="36.4" fill="rgb(126,126,126)"/>
<rect x="309.0" y="376.2" width="17.6" height="36.4" fill="rgb(46,46,46)"/>
<rect x="326.0" y="376.2" width="17.6" height="36.4" fill="rgb(79,79,79)"/>
<rect x="343.0" y="376.2" width="17.6" height="36.4" fill="rgb(68,68,68)"/>
<rect x="360.0" y="376.2" width="17.6" height="36.4" fill="rgb(80,80,80)"/>
<rect x="377.0" y="376.2" width="17.6" height="36.4" fill="rgb(88,88,88)"/>
<rect x="394.0" y="376.2" width="17.6" height="36.4" fill="rgb(81,81,81)"/>
<rect x="411.0" y="376.2" width="17.6" height="36.4" fill="rgb(90,90,90)"/>
<rect x="428.0" y="376.2" width="17.6" height="36.4" fill="rgb(51,51,51)"/>
<rect x="445.0" y="376.2" width="17.6" height="36.4" fill="rgb(80,80,80)"/>
<rect x="462.0" y="376.2" width="17.6" height="36.4" fill="rgb(76,76,76)"/>
<rect x="479.0" y="376.2" width="17.6" height="36.4" fill="rgb(69,69,69)"/>
<rect x="496.0" y="376.2" width="17.6" height="36.4" fill="rgb(51,51,51)"/>
<rect x="513.0" y="376.2" width="17.6" height="36.4" fill="rgb(39,39,39)"/>
<rect x="530.0" y="376.2" width="37.6" height="36.4" fill="rgb(65,65,65)"/></g>
<g filter="url(#db)"><path d="M289.8,211.9 C290.0,215.2 291.1,225.9 291.1,231.7 C291.1,237.4 289.6,241.6 289.8,246.5 C290.0,251.5 291.3,256.4 292.3,261.3 C293.3,266.3 294.8,270.2 296.0,276.2 C297.3,282.1 299.1,293.5 299.7,297.0" fill="none" stroke="#1a1a1a" stroke-opacity="0.55" stroke-width="6.9" stroke-linecap="round"/>
<path d="M341.8,202.0 C342.0,206.1 342.6,218.5 343.0,226.7 C343.4,235.0 343.6,243.2 344.2,251.5 C344.9,259.7 345.9,268.6 346.7,276.2 C347.5,283.8 348.8,293.5 349.2,297.0" fill="none" stroke="#1a1a1a" stroke-opacity="0.35" stroke-width="7.9" stroke-linecap="round"/>
<path d="M383.8,202.0 C384.0,206.1 385.0,218.5 385.0,226.7 C385.0,235.0 383.6,243.2 383.8,251.5 C384.0,259.7 386.3,268.6 386.3,276.2 C386.3,283.8 384.2,293.5 383.8,297.0" fill="none" stroke="#1a1a1a" stroke-opacity="0.45" stroke-width="6.9" stroke-linecap="round"/>
<path d="M297.7,270.0 C298.0,271.9 298.5,276.6 299.0,281.1 C299.4,285.6 300.2,294.3 300.5,297.0" fill="none" stroke="#1a1a1a" stroke-opacity="0.75" stroke-width="6.9" stroke-linecap="round"/>
<path d="M307.1,297.0 C307.6,300.3 308.4,310.2 309.6,316.8 C310.9,323.4 312.9,329.6 314.6,336.6 C316.2,343.6 318.3,352.2 319.5,358.8 C320.7,365.4 321.2,370.6 322.0,376.1 C322.8,381.7 324.0,389.3 324.5,392.0" fill="none" stroke="#1a1a1a" stroke-opacity="0.7" stroke-width="9.9" stroke-linecap="round"/>
<path d="M356.6,306.9 C357.0,310.2 358.5,320.1 359.1,326.7 C359.7,333.3 359.9,340.7 360.3,346.5 C360.7,352.2 361.3,358.8 361.5,361.3" fill="none" stroke="#1a1a1a" stroke-opacity="0.5" stroke-width="5.9" stroke-linecap="round"/>
<path d="M385.0,306.9 C385.2,311.4 385.9,325.4 386.3,334.1 C386.7,342.7 387.3,354.7 387.5,358.8" fill="none" stroke="#1a1a1a" stroke-opacity="0.5" stroke-width="5.9" stroke-linecap="round"/>
<path d="M420.9,297.0 C421.3,301.1 422.5,313.5 423.4,321.7 C424.2,330.0 425.0,338.2 425.8,346.5 C426.7,354.7 428.3,363.6 428.3,371.2 C428.3,378.8 426.2,388.5 425.8,392.0" fill="none" stroke="#1a1a1a" stroke-opacity="0.3" stroke-width="7.9" stroke-linecap="round"/>
<path d="M415.9,239.1 C416.4,243.2 417.6,254.2 418.4,263.8 C419.2,273.5 420.5,291.4 420.9,297.0" fill="none" stroke="#1a1a1a" stroke-opacity="0.3" stroke-width="7.9" stroke-linecap="round"/></g>
<g filter="url(#shb)"><path d="M410.9,205.5 L434.1,202.2 L470.9,202.2 L473.6,216.4 L479.1,230.0 L487.3,238.2 L500.9,243.6 L517.3,249.1 L536.4,257.3 L550.0,261.4 L550.0,292.7 L522.7,287.3 L503.6,285.9 L495.4,287.3 L468.2,290.0 L446.4,290.0 L438.2,284.5 L430.0,270.9 L424.5,254.5 L421.8,235.5 L419.1,221.8 Z" fill="#d4d4d4" fill-opacity="0.5"/>
<path d="M448.0,297.0 L470.0,295.0 L495.0,292.0 L503.0,300.0 L499.0,320.0 L495.0,345.0 L498.0,365.0 L503.0,392.0 L433.0,392.0 L434.0,360.0 L437.0,330.0 L442.0,310.0 Z" fill="#bcbcbc" fill-opacity="0.4"/>
<path d="M275.0,285.0 L282.0,290.0 L290.0,305.0 L298.0,320.0 L300.0,340.0 L302.0,360.0 L308.0,392.0 L275.0,392.0 Z" fill="#c4c4c4" fill-opacity="0.45"/><path d="M304.7,202.0 C305.9,203.6 310.0,208.6 312.1,211.9 C314.2,215.2 317.0,218.1 317.0,221.8 C317.0,225.5 313.9,230.4 312.1,234.1 C310.2,237.9 306.9,240.7 305.9,244.0 C304.9,247.3 306.5,251.0 305.9,253.9 C305.3,256.8 302.8,260.1 302.2,261.3" fill="none" stroke="#c8c8c8" stroke-opacity="0.45" stroke-width="6.2" stroke-linecap="round"/>
<path d="M354.1,202.0 C355.0,203.6 357.8,208.6 359.1,211.9 C360.3,215.2 361.5,218.5 361.5,221.8 C361.5,225.1 359.1,228.0 359.1,231.7 C359.1,235.4 360.3,240.3 361.5,244.0 C362.8,247.7 364.8,250.6 366.5,253.9 C368.1,257.2 370.4,260.1 371.4,263.8 C372.5,267.5 373.3,272.5 372.7,276.2 C372.1,279.9 369.0,282.6 367.7,286.1 C366.5,289.5 365.7,295.1 365.3,297.0" fill="none" stroke="#c8c8c8" stroke-opacity="0.4" stroke-width="9.9" stroke-linecap="round"/>
<path d="M396.2,202.0 C396.4,204.5 397.4,211.9 397.4,216.8 C397.4,221.8 396.0,227.1 396.2,231.7 C396.4,236.2 398.4,239.5 398.6,244.0 C398.8,248.6 397.8,253.9 397.4,258.9 C397.0,263.8 396.8,269.2 396.2,273.7 C395.5,278.2 394.5,282.2 393.7,286.1 C392.9,289.9 391.6,295.1 391.2,297.0" fill="none" stroke="#c8c8c8" stroke-opacity="0.4" stroke-width="7.4" stroke-linecap="round"/>
<path d="M324.5,202.0 C324.9,204.5 326.1,211.9 326.9,216.8 C327.8,221.8 329.2,227.6 329.4,231.7 C329.6,235.8 327.8,238.3 328.2,241.6 C328.6,244.9 330.4,248.2 331.9,251.5 C333.3,254.8 335.4,258.1 336.8,261.3 C338.3,264.6 339.7,267.1 340.5,271.2 C341.4,275.4 341.6,283.6 341.8,286.1" fill="none" stroke="#c8c8c8" stroke-opacity="0.35" stroke-width="7.4" stroke-linecap="round"/>
<path d="M336.8,297.0 C337.0,299.5 338.1,306.9 338.1,311.8 C338.1,316.8 336.6,322.1 336.8,326.7 C337.0,331.2 338.1,334.9 339.3,339.0 C340.5,343.2 342.2,347.3 344.2,351.4 C346.3,355.5 349.6,359.6 351.7,363.8 C353.7,367.9 355.2,371.4 356.6,376.1 C358.0,380.8 359.7,389.3 360.3,392.0" fill="none" stroke="#c8c8c8" stroke-opacity="0.4" stroke-width="12.4" stroke-linecap="round"/>
<path d="M369.0,297.0 C369.2,299.5 370.0,306.9 370.2,311.8 C370.4,316.8 369.6,322.1 370.2,326.7 C370.8,331.2 372.5,334.9 373.9,339.0 C375.4,343.2 376.8,347.3 378.9,351.4 C380.9,355.5 383.4,360.1 386.3,363.8 C389.2,367.5 394.5,372.0 396.2,373.7" fill="none" stroke="#c8c8c8" stroke-opacity="0.45" stroke-width="8.7" stroke-linecap="round"/></g>
<g filter="url(#sb)"><path d="M281.2,221.8 C281.4,223.8 282.6,230.0 282.4,234.1 C282.2,238.3 280.2,242.4 279.9,246.5 C279.7,250.6 280.4,255.2 281.2,258.9 C282.0,262.6 284.1,265.1 284.9,268.8 C285.7,272.5 286.1,276.4 286.1,281.1 C286.1,285.8 285.1,294.3 284.9,297.0" fill="none" stroke="#f4f4f4" stroke-opacity="0.60" stroke-width="1.1" stroke-linecap="round"/>
<path d="M296.0,202.0 C296.2,204.1 296.6,210.2 297.3,214.4 C297.9,218.5 299.5,222.6 299.7,226.7 C299.9,230.8 298.1,235.0 298.5,239.1 C298.9,243.2 302.0,247.3 302.2,251.5 C302.4,255.6 299.7,259.7 299.7,263.8 C299.7,267.9 301.4,270.7 302.2,276.2 C303.0,281.7 304.3,293.5 304.7,297.0" fill="none" stroke="#f4f4f4" stroke-opacity="0.52" stroke-width="1.0" stroke-linecap="round"/>
<path d="M307.1,202.0 C307.8,203.6 309.0,208.6 310.9,211.9 C312.7,215.2 317.2,218.9 318.3,221.8 C319.3,224.7 318.5,226.7 317.0,229.2 C315.6,231.7 311.5,234.1 309.6,236.6 C307.8,239.1 306.3,241.2 305.9,244.0 C305.5,246.9 307.8,251.5 307.1,253.9 C306.5,256.4 303.0,258.1 302.2,258.9" fill="none" stroke="#f4f4f4" stroke-opacity="0.64" stroke-width="1.3" stroke-linecap="round"/>
<path d="M320.7,236.6 C321.4,237.9 323.2,241.6 324.5,244.0 C325.7,246.5 326.7,249.8 328.2,251.5 C329.6,253.1 331.7,252.3 333.1,253.9 C334.6,255.6 335.8,259.3 336.8,261.3 C337.9,263.4 338.5,263.8 339.3,266.3 C340.1,268.8 341.4,274.5 341.8,276.2" fill="none" stroke="#f4f4f4" stroke-opacity="0.60" stroke-width="1.1" stroke-linecap="round"/>
<path d="M314.6,224.3 C315.6,224.7 318.7,226.5 320.7,226.7 C322.8,226.9 324.7,225.5 326.9,225.5 C329.2,225.5 333.1,226.5 334.3,226.7" fill="none" stroke="#f4f4f4" stroke-opacity="0.45" stroke-width="0.8" stroke-linecap="round"/>
<path d="M331.9,202.0 C332.3,203.6 333.7,208.6 334.3,211.9 C335.0,215.2 335.8,218.5 335.6,221.8 C335.4,225.1 333.3,228.4 333.1,231.7 C332.9,235.0 334.6,238.3 334.3,241.6 C334.1,244.9 332.3,249.8 331.9,251.5" fill="none" stroke="#f4f4f4" stroke-opacity="0.45" stroke-width="0.8" stroke-linecap="round"/>
<path d="M350.4,202.0 C351.0,203.2 352.9,207.4 354.1,209.4 C355.4,211.5 356.6,213.1 357.8,214.4 C359.1,215.6 361.3,215.2 361.5,216.8 C361.8,218.5 359.7,221.8 359.1,224.3 C358.5,226.7 357.6,229.2 357.8,231.7 C358.0,234.1 359.7,236.6 360.3,239.1 C360.9,241.6 360.9,244.0 361.5,246.5 C362.2,249.0 362.8,251.9 364.0,253.9 C365.3,256.0 367.5,256.8 369.0,258.9 C370.4,260.9 371.9,263.4 372.7,266.3 C373.5,269.2 374.5,273.3 373.9,276.2 C373.3,279.1 370.2,280.1 369.0,283.6 C367.7,287.1 366.9,294.7 366.5,297.0" fill="none" stroke="#f4f4f4" stroke-opacity="0.64" stroke-width="1.3" stroke-linecap="round"/>
<path d="M356.6,202.0 C357.4,202.8 359.9,205.3 361.5,206.9 C363.2,208.6 365.9,209.8 366.5,211.9 C367.1,214.0 364.8,216.8 365.3,219.3 C365.7,221.8 367.5,224.3 369.0,226.7 C370.4,229.2 372.7,231.7 373.9,234.1 C375.1,236.6 375.8,238.7 376.4,241.6 C377.0,244.4 377.6,248.2 377.6,251.5 C377.6,254.8 376.6,259.7 376.4,261.3" fill="none" stroke="#f4f4f4" stroke-opacity="0.52" stroke-width="1.0" stroke-linecap="round"/>
<path d="M393.7,202.0 C394.1,203.6 396.2,208.6 396.2,211.9 C396.2,215.2 393.7,218.5 393.7,221.8 C393.7,225.1 395.3,228.4 396.2,231.7 C397.0,235.0 398.6,238.3 398.6,241.6 C398.6,244.9 397.0,247.7 396.2,251.5 C395.3,255.2 393.7,260.1 393.7,263.8 C393.7,267.5 396.2,270.4 396.2,273.7 C396.2,277.0 394.5,279.7 393.7,283.6 C392.9,287.5 391.6,294.7 391.2,297.0" fill="none" stroke="#f4f4f4" stroke-opacity="0.60" stroke-width="1.1" stroke-linecap="round"/>
<path d="M383.8,251.5 C385.0,252.1 388.7,254.3 391.2,255.2 C393.7,256.0 396.6,255.0 398.6,256.4 C400.7,257.8 402.3,260.9 403.6,263.8 C404.8,266.7 406.1,270.0 406.1,273.7 C406.1,277.4 404.8,282.2 403.6,286.1 C402.3,289.9 399.5,295.1 398.6,297.0" fill="none" stroke="#f4f4f4" stroke-opacity="0.52" stroke-width="1.0" stroke-linecap="round"/>
<path d="M433.3,202.0 C434.1,204.1 435.7,210.2 438.2,214.4 C440.7,218.5 444.4,223.0 448.1,226.7 C451.8,230.4 456.3,234.1 460.5,236.6 C464.6,239.1 467.5,239.9 472.8,241.6 C478.2,243.2 485.6,244.4 492.6,246.5 C499.6,248.6 507.9,251.9 514.9,253.9 C521.9,256.0 529.3,257.6 534.6,258.9 C540.0,260.1 544.9,260.9 547.0,261.3" fill="none" stroke="#f4f4f4" stroke-opacity="0.68" stroke-width="1.4" stroke-linecap="round"/>
<path d="M450.6,202.0 C452.2,203.6 457.2,208.6 460.5,211.9 C463.8,215.2 467.5,218.5 470.3,221.8 C473.2,225.1 474.9,228.8 477.8,231.7 C480.7,234.6 483.1,237.0 487.7,239.1 C492.2,241.2 499.2,242.4 505.0,244.0 C510.7,245.7 515.3,247.3 522.3,249.0 C529.3,250.6 542.9,253.1 547.0,253.9" fill="none" stroke="#f4f4f4" stroke-opacity="0.60" stroke-width="1.1" stroke-linecap="round"/>
<path d="M411.0,214.4 C412.2,214.8 416.4,214.8 418.4,216.8 C420.5,218.9 423.0,223.4 423.4,226.7 C423.8,230.0 420.5,233.3 420.9,236.6 C421.3,239.9 425.0,242.8 425.8,246.5 C426.7,250.2 424.6,254.3 425.8,258.9 C427.1,263.4 430.4,269.2 433.3,273.7 C436.1,278.2 440.7,282.2 443.1,286.1 C445.6,289.9 447.3,295.1 448.1,297.0" fill="none" stroke="#f4f4f4" stroke-opacity="0.64" stroke-width="1.3" stroke-linecap="round"/>
<path d="M415.9,226.7 C417.6,228.0 422.1,232.5 425.8,234.1 C429.5,235.8 434.5,235.8 438.2,236.6 C441.9,237.4 446.4,238.7 448.1,239.1" fill="none" stroke="#f4f4f4" stroke-opacity="0.52" stroke-width="1.0" stroke-linecap="round"/>
<path d="M443.1,273.7 C446.0,274.1 453.4,274.5 460.5,276.2 C467.5,277.8 477.8,281.7 485.2,283.6 C492.6,285.5 498.8,287.1 505.0,287.3 C511.1,287.5 515.3,284.8 522.3,284.8 C529.3,284.8 542.9,286.9 547.0,287.3" fill="none" stroke="#f4f4f4" stroke-opacity="0.64" stroke-width="1.3" stroke-linecap="round"/>
<path d="M448.1,251.5 C451.0,252.7 459.2,256.8 465.4,258.9 C471.6,260.9 477.8,262.2 485.2,263.8 C492.6,265.5 502.5,266.7 509.9,268.8 C517.3,270.8 526.4,274.9 529.7,276.2" fill="none" stroke="#f4f4f4" stroke-opacity="0.52" stroke-width="1.0" stroke-linecap="round"/>
<path d="M519.8,216.8 C519.0,218.5 517.3,223.8 514.9,226.7 C512.4,229.6 507.9,232.5 505.0,234.1 C502.1,235.8 498.8,236.2 497.5,236.6" fill="none" stroke="#f4f4f4" stroke-opacity="0.60" stroke-width="1.1" stroke-linecap="round"/>
<path d="M492.6,202.0 C493.8,203.6 497.5,208.2 500.0,211.9 C502.5,215.6 505.8,220.5 507.4,224.3 C509.1,228.0 509.5,232.5 509.9,234.1" fill="none" stroke="#f4f4f4" stroke-opacity="0.45" stroke-width="0.8" stroke-linecap="round"/>
<path d="M522.3,202.0 C523.1,204.1 525.2,210.2 527.2,214.4 C529.3,218.5 532.2,223.4 534.6,226.7 C537.1,230.0 540.0,232.5 542.1,234.1 C544.1,235.8 546.2,236.2 547.0,236.6" fill="none" stroke="#f4f4f4" stroke-opacity="0.45" stroke-width="0.8" stroke-linecap="round"/>
<path d="M282.4,297.0 C283.7,299.5 287.4,307.3 289.8,311.8 C292.3,316.4 295.6,320.1 297.3,324.2 C298.9,328.3 299.5,332.4 299.7,336.6 C299.9,340.7 298.1,344.8 298.5,348.9 C298.9,353.1 300.8,357.2 302.2,361.3 C303.6,365.4 305.5,368.5 307.1,373.7 C308.8,378.8 311.3,388.9 312.1,392.0" fill="none" stroke="#f4f4f4" stroke-opacity="0.68" stroke-width="1.4" stroke-linecap="round"/>
<path d="M277.5,297.0 C277.7,299.5 277.9,306.9 278.7,311.8 C279.5,316.8 281.4,321.7 282.4,326.7 C283.4,331.6 284.3,336.2 284.9,341.5 C285.5,346.9 285.3,353.1 286.1,358.8 C287.0,364.6 288.4,370.6 289.8,376.1 C291.3,381.7 294.0,389.3 294.8,392.0" fill="none" stroke="#f4f4f4" stroke-opacity="0.60" stroke-width="1.1" stroke-linecap="round"/>
<path d="M326.9,297.0 C327.1,299.1 328.2,305.2 328.2,309.4 C328.2,313.5 326.9,317.6 326.9,321.7 C326.9,325.8 326.9,330.0 328.2,334.1 C329.4,338.2 332.5,342.3 334.3,346.5 C336.2,350.6 337.6,354.7 339.3,358.8 C340.9,362.9 343.0,365.7 344.2,371.2 C345.5,376.7 346.3,388.5 346.7,392.0" fill="none" stroke="#f4f4f4" stroke-opacity="0.52" stroke-width="1.0" stroke-linecap="round"/>
<path d="M349.2,297.0 C349.6,299.5 350.8,306.9 351.7,311.8 C352.5,316.8 354.1,321.7 354.1,326.7 C354.1,331.6 350.8,337.0 351.7,341.5 C352.5,346.0 356.6,349.8 359.1,353.9 C361.5,358.0 364.4,362.1 366.5,366.2 C368.6,370.4 370.2,374.3 371.4,378.6 C372.7,382.9 373.5,389.7 373.9,392.0" fill="none" stroke="#f4f4f4" stroke-opacity="0.52" stroke-width="1.0" stroke-linecap="round"/>
<path d="M361.5,297.0 C362.0,298.6 363.8,303.6 364.0,306.9 C364.2,310.2 362.4,313.1 362.8,316.8 C363.2,320.5 365.1,325.0 366.5,329.1 C367.9,333.3 370.2,337.8 371.4,341.5 C372.7,345.2 372.7,348.1 373.9,351.4 C375.1,354.7 376.4,358.4 378.9,361.3 C381.3,364.2 385.5,366.7 388.7,368.7 C392.0,370.8 396.2,372.0 398.6,373.7 C401.1,375.3 402.8,377.8 403.6,378.6" fill="none" stroke="#f4f4f4" stroke-opacity="0.64" stroke-width="1.3" stroke-linecap="round"/>
<path d="M373.9,297.0 C374.3,298.6 376.4,303.6 376.4,306.9 C376.4,310.2 373.9,312.2 373.9,316.8 C373.9,321.3 374.7,328.3 376.4,334.1 C378.0,339.9 381.3,346.9 383.8,351.4 C386.3,355.9 388.3,358.0 391.2,361.3 C394.1,364.6 399.5,369.5 401.1,371.2" fill="none" stroke="#f4f4f4" stroke-opacity="0.52" stroke-width="1.0" stroke-linecap="round"/>
<path d="M391.2,297.0 C391.6,299.5 393.7,306.9 393.7,311.8 C393.7,316.8 390.8,321.7 391.2,326.7 C391.6,331.6 394.9,336.6 396.2,341.5 C397.4,346.5 397.4,351.4 398.6,356.3 C399.9,361.3 402.8,368.7 403.6,371.2" fill="none" stroke="#f4f4f4" stroke-opacity="0.45" stroke-width="0.8" stroke-linecap="round"/>
<path d="M448.1,297.0 C447.7,299.5 446.9,306.9 445.6,311.8 C444.4,316.8 441.9,321.7 440.7,326.7 C439.4,331.6 439.0,336.2 438.2,341.5 C437.4,346.9 436.6,353.1 435.7,358.8 C434.9,364.6 433.5,370.6 433.3,376.1 C433.0,381.7 434.3,389.3 434.5,392.0" fill="none" stroke="#f4f4f4" stroke-opacity="0.64" stroke-width="1.3" stroke-linecap="round"/>
<path d="M485.2,314.3 C483.5,316.0 478.0,320.9 475.3,324.2 C472.6,327.5 469.9,330.8 469.1,334.1 C468.3,337.4 468.9,341.9 470.3,344.0 C471.8,346.0 476.1,347.7 477.8,346.5 C479.4,345.2 479.0,338.6 480.2,336.6 C481.5,334.5 484.4,334.5 485.2,334.1" fill="none" stroke="#f4f4f4" stroke-opacity="0.64" stroke-width="1.3" stroke-linecap="round"/>
<path d="M505.0,297.0 C504.1,299.1 501.7,305.2 500.0,309.4 C498.4,313.5 496.1,317.6 495.1,321.7 C494.0,325.8 494.0,329.1 493.8,334.1 C493.6,339.0 493.4,346.5 493.8,351.4 C494.3,356.3 494.7,360.5 496.3,363.8 C498.0,367.1 502.7,368.3 503.7,371.2 C504.8,374.1 503.3,377.6 502.5,381.1 C501.7,384.5 499.4,390.1 498.8,392.0" fill="none" stroke="#f4f4f4" stroke-opacity="0.68" stroke-width="1.4" stroke-linecap="round"/>
<path d="M415.9,309.4 C416.4,311.4 418.4,317.2 418.4,321.7 C418.4,326.3 415.5,331.6 415.9,336.6 C416.4,341.5 419.2,345.6 420.9,351.4 C422.5,357.2 425.4,364.4 425.8,371.2 C426.2,377.9 423.8,388.5 423.4,392.0" fill="none" stroke="#f4f4f4" stroke-opacity="0.45" stroke-width="0.8" stroke-linecap="round"/>
<path d="M455.5,316.8 C456.3,319.3 460.0,326.7 460.5,331.6 C460.9,336.6 458.0,341.5 458.0,346.5 C458.0,351.4 458.8,356.3 460.5,361.3 C462.1,366.2 465.8,371.0 467.9,376.1 C469.9,381.2 472.0,389.3 472.8,392.0" fill="none" stroke="#f4f4f4" stroke-opacity="0.45" stroke-width="0.8" stroke-linecap="round"/></g>
<path d="M524.8,319.3 L527.2,311.8 L532.2,304.4 L539.6,299.5 L547,294 L547,320.5 L534.6,321.7 Z" fill="#dadada" filter="url(#sb)"/>
<path d="M527.2,361.3 L529.7,351.4 L534.6,344 L544.5,339 L547,340.3 L547,363.8 L534.6,365 Z" fill="#c6c6c6" filter="url(#sb)"/>
</g>
<rect x="4" y="390.8" width="271" height="1.4" fill="#4a4a4a" fill-opacity="0.6"/>
<rect x="272.5" y="202" width="2.5" height="190" fill="#4a4a4a" fill-opacity="0.35"/>
<rect x="237.2" y="381.2" width="21.8" height="2.5" fill="#fff"/>
<rect x="510.9" y="381" width="22" height="2.6" fill="#fff"/>
<text x="8" y="217.3" class="pl" fill="#fff" stroke="none">c</text>
<text x="276.5" y="216.5" class="pl" fill="#fff" stroke="none">d</text>
</svg>
</body></html>
